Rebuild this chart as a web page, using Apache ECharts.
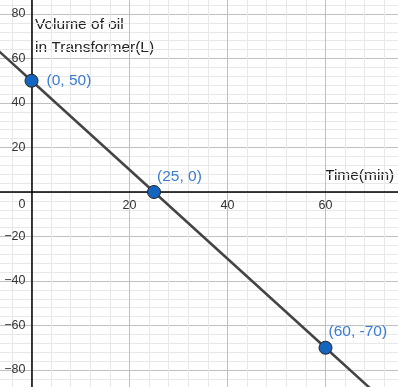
<!DOCTYPE html>
<html>
<head>
<meta charset="utf-8">
<script src="https://cdn.jsdelivr.net/npm/echarts@6/dist/echarts.min.js"></script>
<style>
html,body{margin:0;padding:0;background:#fff;}
#c{width:398px;height:387px;}
</style>
</head>
<body>
<div id="c"></div>
<script>
// Data
var lineX = [-20, 0, 25, 60, 80];
var lineY = [90, 50, 0, -70, -110];
var pointX = [0, 25, 60];
var pointY = [50, 0, -70];
var pointLabels = ['(0, 50)', '(25, 0)', '(60, -70)'];
var yTitle = ['Volume of oil', 'in Transformer(L)'];
var xTitle = 'Time(min)';

var labelStyles = [
  {position: 'right', offset: [3, 0]},
  {position: 'right', offset: [-9, -15]},
  {position: 'right', offset: [-9, -16]}
];

var chart = echarts.init(document.getElementById('c'));
var FONT = '"Liberation Sans", Arial, sans-serif';
function fmt(v){ return String(v).replace('-', '\u2212'); }

var option = {
  animation: false,
  backgroundColor: '#fff',
  grid: {left: -66.5, right: -25.5, top: -30.5, bottom: -27.5, containLabel: false, outerBoundsMode: 'none'},
  xAxis: {
    type: 'value', min: -20, max: 80, interval: 20,
    position: 'bottom', offset: -222.5,
    axisLine: {onZero: false, lineStyle: {color: '#000', width: 1.5}},
    axisTick: {show: false},
    axisLabel: {show: true, color: '#333', fontSize: 12.5, fontFamily: FONT, margin: 7,
      formatter: function(v){ return v === 0 ? '' : fmt(v); }},
    splitLine: {show: true, lineStyle: {color: '#c0c0c0', width: 1}},
    minorTick: {show: false, splitNumber: 5},
    minorSplitLine: {show: true, lineStyle: {color: '#e8e8e8', width: 1}}
  },
  yAxis: {
    type: 'value', min: -100, max: 100, interval: 20,
    position: 'left', offset: -98,
    axisLine: {onZero: false, lineStyle: {color: '#000', width: 1.5}},
    axisTick: {show: false},
    axisLabel: {show: true, color: '#333', fontSize: 12.5, fontFamily: FONT, margin: 6,
      formatter: function(v){ return v === 0 ? '{z|0}' : fmt(v); },
      rich: {z: {color: '#333', fontSize: 12.5, fontFamily: FONT, padding: [26, 0, 0, 0]}}},
    splitLine: {show: true, lineStyle: {color: '#c0c0c0', width: 1}},
    minorTick: {show: false, splitNumber: 5},
    minorSplitLine: {show: true, lineStyle: {color: '#e8e8e8', width: 1}}
  },
  series: [
    {
      type: 'line',
      data: lineX.map(function(x, i){ return [x, lineY[i]]; }),
      showSymbol: false, symbol: 'none',
      lineStyle: {color: '#444', width: 2.5},
      z: 3
    },
    {
      type: 'scatter',
      symbolSize: 13,
      itemStyle: {color: '#1565c0', borderColor: '#222', borderWidth: 1, opacity: 1},
      data: pointX.map(function(x, i){
        return {
          value: [x, pointY[i]],
          label: {
            show: true,
            formatter: pointLabels[i],
            position: labelStyles[i].position,
            offset: labelStyles[i].offset,
            color: '#3a7bd5', fontSize: 15.5, fontFamily: FONT
          }
        };
      }),
      z: 4
    }
  ],
  graphic: [
    {type: 'text', left: 35, top: 17, style: {text: yTitle[0], fill: '#222', fontSize: 15.5, fontFamily: FONT}},
    {type: 'text', left: 35, top: 40, style: {text: yTitle[1], fill: '#222', fontSize: 15.5, fontFamily: FONT}},
    {type: 'text', left: 325, top: 168, style: {text: xTitle, fill: '#222', fontSize: 15.5, fontFamily: FONT}}
  ]
};
chart.setOption(option);
</script>
</body>
</html>
